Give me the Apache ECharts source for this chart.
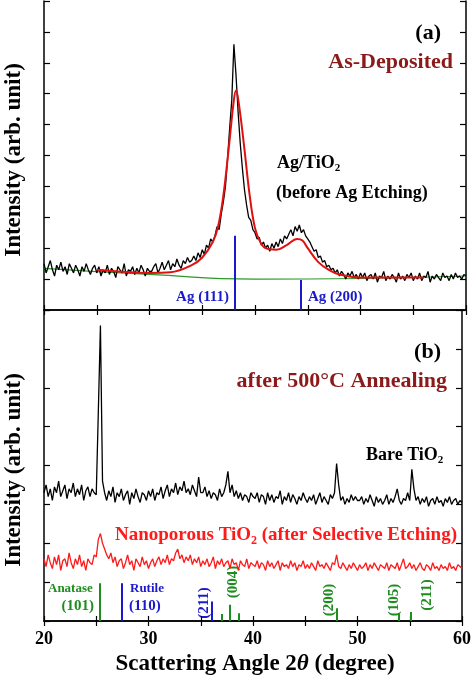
<!DOCTYPE html>
<html><head><meta charset="utf-8">
<script src="https://cdn.jsdelivr.net/npm/echarts@6/dist/echarts.min.js"></script>
<style>html,body{margin:0;padding:0;background:#fff}#c{width:474px;height:681px}</style>
</head><body><div id="c"></div>
<script>
const angleStart = 20, angleEnd = 60;
const xTickLabels = ['20','30','40','50','60'];
// (a) as-deposited Ag/TiO2 raw scan
const agTiO2Raw = [1.5,1.2,1.4,1.6,1.3,1.1,1.45,1.3,1.55,1.25,1.4,1.15,1.5,1.35,1.2,1.45,1.3,1.1,1.4,1.25,1.5,1.3,1.15,1.35,1.45,1.2,
1.4,1.1,1.3,1.2,1.45,1.15,1.35,1.25,1.05,1.4,1.3,1.2,1.5,1.1,1.3,1.25,1.4,1.15,1.35,1.2,1.45,1.3,1.1,1.35,1.25,
1.25,1.4,1.5,1.2,1.35,1.55,1.3,1.45,1.6,1.3,1.5,1.4,1.65,1.45,1.35,1.6,1.5,1.7,1.55,1.6,
1.75,1.6,1.85,1.7,1.95,1.8,2.1,2.0,2.3,2.2,
2.4,2.7,2.6,3.1,3.5,
4.0,4.9,5.9,6.8,8.6,7.6,6.4,5.4,4.6,3.9,
3.4,3.0,2.9,2.6,2.5,2.3,2.35,2.1,2.2,2.0,
2.1,1.9,2.15,2.0,2.2,2.05,2.3,2.15,2.4,2.3,
2.45,2.6,2.4,2.7,2.55,2.75,2.5,2.6,2.4,2.3,
2.2,2.05,1.9,1.95,1.7,1.75,1.55,1.6,1.4,1.45,
1.3,1.35,1.2,1.3,1.1,1.25,1.15,1.0,1.2,1.1,1.25,1.05,1.15,1.0,1.2,
1.05,1.2,0.95,1.1,1.15,1.0,1.2,0.9,1.1,1.05,1.25,0.95,1.1,1.0,1.15,1.05,0.9,1.2,1.0,1.1,0.95,1.15,1.05,1.2,0.95,
1.1,1.0,1.2,0.95,1.1,1.05,1.25,0.9,1.1,1.0,1.15,1.05,0.95,1.2,1.05,1.1,0.95,1.15,1.0,1.2,1.05,1.1,1.0,1.15,1.1];
const agFitX = [25,30,32,34,35,36,36.5,37,37.5,38,38.2,38.5,39,39.5,40,40.5,41,42,43,44,44.5,45,46,47,48,50,56];
const agFitY = [1.3,1.2,1.22,1.45,1.7,2.2,2.7,3.7,5.2,6.8,7.1,6.6,5.2,3.7,2.65,2.2,2.0,1.95,2.1,2.3,2.25,2.0,1.55,1.3,1.15,1.05,1.05];
const baseX = [20,30,40,50,60];
const baseY = [1.35,1.15,1.0,1.02,1.1];
const agRefX = [38.1,44.3];
const agRefH = [2.4,0.97];
// (b) after annealing
const bareTiO2 = [3.3,3.5,3.2,3.4,3.1,3.45,3.3,3.6,3.2,3.35,3.5,3.15,3.4,3.3,3.55,3.2,3.4,3.25,3.5,3.1,3.35,3.45,3.2,3.4,3.3,3.25,
5.4,7.6,3.6,3.3,3.1,3.35,3.2,3.45,3.05,3.3,3.2,3.4,3.1,3.25,3.35,3.0,3.3,3.15,3.4,3.2,3.05,3.3,3.25,3.1,3.35,
3.2,3.4,3.1,3.3,3.25,3.45,3.15,3.35,3.5,3.2,3.4,3.3,3.55,3.25,3.45,3.35,3.6,3.3,3.4,3.25,3.5,3.35,3.2,3.7,3.3,
3.3,3.45,3.2,3.35,3.15,3.3,3.25,3.1,3.4,3.2,3.3,3.5,3.85,3.3,3.5,3.2,3.35,3.15,3.3,3.1,3.25,3.2,3.05,3.3,3.2,
3.15,3.3,3.05,3.25,3.2,3.0,3.3,3.1,3.25,3.05,3.2,3.15,3.35,3.0,3.2,3.1,3.3,3.05,3.25,3.15,3.0,3.2,3.1,3.3,3.15,
3.05,3.2,3.1,3.25,3.0,3.15,3.3,3.05,3.2,3.1,3.0,3.25,3.15,3.3,4.05,3.5,3.1,3.2,3.0,3.15,3.05,3.25,3.1,3.2,3.1,
3.1,3.2,3.0,3.15,3.05,3.25,3.1,2.95,3.2,3.05,3.15,3.0,3.1,3.25,3.0,3.15,3.05,3.2,3.4,3.1,3.0,3.15,3.1,3.3,3.1,
3.9,3.4,3.1,3.2,3.0,3.15,3.05,3.2,2.95,3.1,3.15,3.0,3.2,3.05,3.1,2.95,3.15,3.05,3.2,3.0,3.1,3.15,3.0,3.1,3.05];
const nanoTiO2 = [1.6,1.4,1.7,1.5,1.35,1.65,1.45,1.7,1.3,1.55,1.6,1.4,1.75,1.5,1.35,1.6,1.45,1.7,1.4,1.55,1.3,1.6,1.5,1.45,1.7,1.65,
2.1,2.25,2.0,1.85,1.7,1.6,1.75,1.5,1.65,1.4,1.55,1.6,1.35,1.5,1.7,1.45,1.55,1.3,1.6,1.5,1.4,1.65,1.45,1.55,1.35,
1.5,1.6,1.4,1.55,1.65,1.45,1.6,1.5,1.7,1.45,1.6,1.55,1.75,1.85,1.6,1.7,1.5,1.65,1.55,1.7,1.45,1.6,1.5,1.65,1.4,
1.55,1.45,1.6,1.4,1.5,1.65,1.35,1.55,1.45,1.6,1.4,1.5,1.55,1.35,1.6,1.45,1.5,1.3,1.55,1.45,1.4,1.6,1.35,1.5,1.45,
1.4,1.55,1.35,1.5,1.45,1.3,1.55,1.4,1.5,1.35,1.45,1.55,1.3,1.5,1.4,1.45,1.35,1.55,1.4,1.5,1.3,1.45,1.4,1.55,1.35,
1.45,1.35,1.5,1.4,1.3,1.55,1.4,1.45,1.35,1.5,1.4,1.3,1.5,1.45,1.7,1.4,1.35,1.5,1.4,1.3,1.45,1.35,1.5,1.4,1.3,
1.45,1.35,1.4,1.5,1.3,1.45,1.35,1.5,1.4,1.3,1.45,1.4,1.35,1.5,1.3,1.45,1.4,1.35,1.5,1.3,1.45,1.6,1.35,1.4,1.5,
1.35,1.45,1.3,1.4,1.5,1.35,1.3,1.45,1.4,1.3,1.5,1.35,1.4,1.3,1.45,1.35,1.4,1.3,1.5,1.35,1.4,1.3,1.45,1.4,1.35];
const anataseX = [25.3,37.0,37.8,38.6,48.0,53.9,55.1];
const anataseH = [0.97,0.18,0.42,0.2,0.33,0.2,0.23];
const rutileX = [27.4,36.1];
const rutileH = [0.97,0.5];

function series(vals){const n=vals.length,st=(angleEnd-angleStart)/(n-1);return vals.map((v,i)=>[angleStart+i*st,v]);}
function pairs(xs,ys){return xs.map((x,i)=>[x,ys[i]]);}
function refLines(xs,hs){return xs.map((x,i)=>[{coord:[x,0]},{coord:[x,hs[i]]}]);}

const F='"Liberation Serif", "DejaVu Serif", serif';
const DR='#8b1a1a', BL='#1a1acc', GR='#1e8c1e';
function xAx(g,pos,labels){return {gridIndex:g,type:'value',min:20,max:60,interval:5,position:pos,
 axisLine:{show:true,lineStyle:{color:'#000',width:1.5}},axisTick:{show:true,inside:true,length:5,lineStyle:{color:'#000',width:1.2}},
 splitLine:{show:false},axisLabel:{show:labels,fontFamily:F,fontWeight:'bold',fontSize:18,color:'#000',margin:9,
 formatter:v=>{const s=String(v);return xTickLabels.indexOf(s)>=0?s:'';}}};}
function yAx(g,pos,max){return {gridIndex:g,type:'value',min:0,max:max,interval:1,position:pos,
 axisLine:{show:true,lineStyle:{color:'#000',width:1.5}},axisTick:{show:true,inside:true,length:6,lineStyle:{color:'#000',width:1.2}},
 splitLine:{show:false},axisLabel:{show:false}};}

const txt=(x,y,text,o)=>Object.assign({type:'text',x:x,y:y,style:Object.assign({text:text,font:'bold 15px '+F,fill:'#000',textVerticalAlign:'middle'},o||{})});
const rot=(x,y,t,c)=>({type:'text',x:x,y:y,rotation:Math.PI/2,style:{text:t,font:'bold 15px '+F,fill:c,textAlign:'center',textVerticalAlign:'middle'}});

const chart=echarts.init(document.getElementById('c'));
chart.setOption({
 animation:false,
 grid:[{left:44,right:8,top:1,height:309},{left:44,right:8,top:310,height:311}],
 xAxis:[xAx(0,'bottom',false),xAx(0,'top',false),xAx(1,'bottom',true),xAx(1,'top',false)],
 yAxis:[yAx(0,'left',10),yAx(0,'right',10),yAx(1,'left',8),yAx(1,'right',8)],
 series:[
  {type:'line',xAxisIndex:0,yAxisIndex:0,data:pairs(baseX,baseY),smooth:true,symbol:'none',lineStyle:{color:'#2a9a2a',width:1.2},z:1},
  {type:'line',xAxisIndex:0,yAxisIndex:0,data:series(agTiO2Raw),symbol:'none',lineStyle:{color:'#000',width:1.3},z:2},
  {type:'line',xAxisIndex:0,yAxisIndex:0,data:pairs(agFitX,agFitY),smooth:0.4,symbol:'none',lineStyle:{color:'#e01010',width:2},z:3},
  {type:'line',xAxisIndex:0,yAxisIndex:0,data:[],markLine:{silent:true,symbol:'none',label:{show:false},lineStyle:{color:BL,width:2,type:'solid'},data:refLines(agRefX,agRefH)}},
  {type:'line',xAxisIndex:2,yAxisIndex:2,data:series(bareTiO2),symbol:'none',lineStyle:{color:'#000',width:1.3}},
  {type:'line',xAxisIndex:2,yAxisIndex:2,data:series(nanoTiO2),symbol:'none',lineStyle:{color:'#ff1a1a',width:1.3}},
  {type:'line',xAxisIndex:2,yAxisIndex:2,data:[],markLine:{silent:true,symbol:'none',label:{show:false},lineStyle:{color:GR,width:2,type:'solid'},data:refLines(anataseX,anataseH)}},
  {type:'line',xAxisIndex:2,yAxisIndex:2,data:[],markLine:{silent:true,symbol:'none',label:{show:false},lineStyle:{color:BL,width:2,type:'solid'},data:refLines(rutileX,rutileH)}}
 ],
 graphic:[
  txt(441,33,'(a)',{font:'bold 22px '+F,textAlign:'right'}),
  txt(453,62,'As-Deposited',{font:'bold 22px '+F,fill:DR,textAlign:'right'}),
  {type:'text',x:277,y:163,style:{rich:{a:{font:'bold 18px '+F,fill:'#000'},s:{font:'bold 11px '+F,fill:'#000',padding:[11,0,0,0]}},text:'{a|Ag/TiO}{s|2}',textVerticalAlign:'middle'}},
  txt(276,193,'(before Ag Etching)',{font:'bold 18px '+F}),
  txt(229,297,'Ag (111)',{font:'bold 15px '+F,fill:BL,textAlign:'right'}),
  txt(308,297,'Ag (200)',{font:'bold 15px '+F,fill:BL}),
  txt(441,352,'(b)',{font:'bold 22px '+F,textAlign:'right'}),
  txt(447,381,'after 500°C Annealing',{font:'bold 22px '+F,fill:DR,textAlign:'right'}),
  {type:'text',x:366,y:455,style:{rich:{a:{font:'bold 18px '+F,fill:'#000'},s:{font:'bold 11px '+F,fill:'#000',padding:[11,0,0,0]}},text:'{a|Bare TiO}{s|2}',textVerticalAlign:'middle'}},
  {type:'text',x:115,y:535,style:{rich:{a:{font:'bold 19px '+F,fill:'#ff1a1a'},s:{font:'bold 12px '+F,fill:'#ff1a1a',padding:[11,0,0,0]}},text:'{a|Nanoporous TiO}{s|2}{a| (after Selective Etching)}',textVerticalAlign:'middle'}},
  txt(48,589,'Anatase',{font:'bold 13px '+F,fill:GR}),
  txt(94,606,'(101)',{font:'bold 15px '+F,fill:GR,textAlign:'right'}),
  txt(130,589,'Rutile',{font:'bold 13px '+F,fill:BL}),
  txt(129,606,'(110)',{font:'bold 15px '+F,fill:BL}),
  rot(204,603,'(211)',BL), rot(233,582,'(004)',GR), rot(329,600,'(200)',GR), rot(394,600,'(105)',GR), rot(427,595,'(211)',GR),
  {type:'text',x:255,y:664,style:{rich:{a:{font:'bold 23px '+F,fill:'#000'},i:{font:'italic bold 23px '+F,fill:'#000'}},text:'{a|Scattering Angle 2}{i|θ}{a| (degree)}',textAlign:'center',textVerticalAlign:'middle'}},
  {type:'text',x:14,y:160,rotation:Math.PI/2,style:{text:'Intensity (arb. unit)',font:'bold 23px '+F,fill:'#000',textAlign:'center',textVerticalAlign:'middle'}},
  {type:'text',x:14,y:470,rotation:Math.PI/2,style:{text:'Intensity (arb. unit)',font:'bold 23px '+F,fill:'#000',textAlign:'center',textVerticalAlign:'middle'}}
 ]
});
</script></body></html>
